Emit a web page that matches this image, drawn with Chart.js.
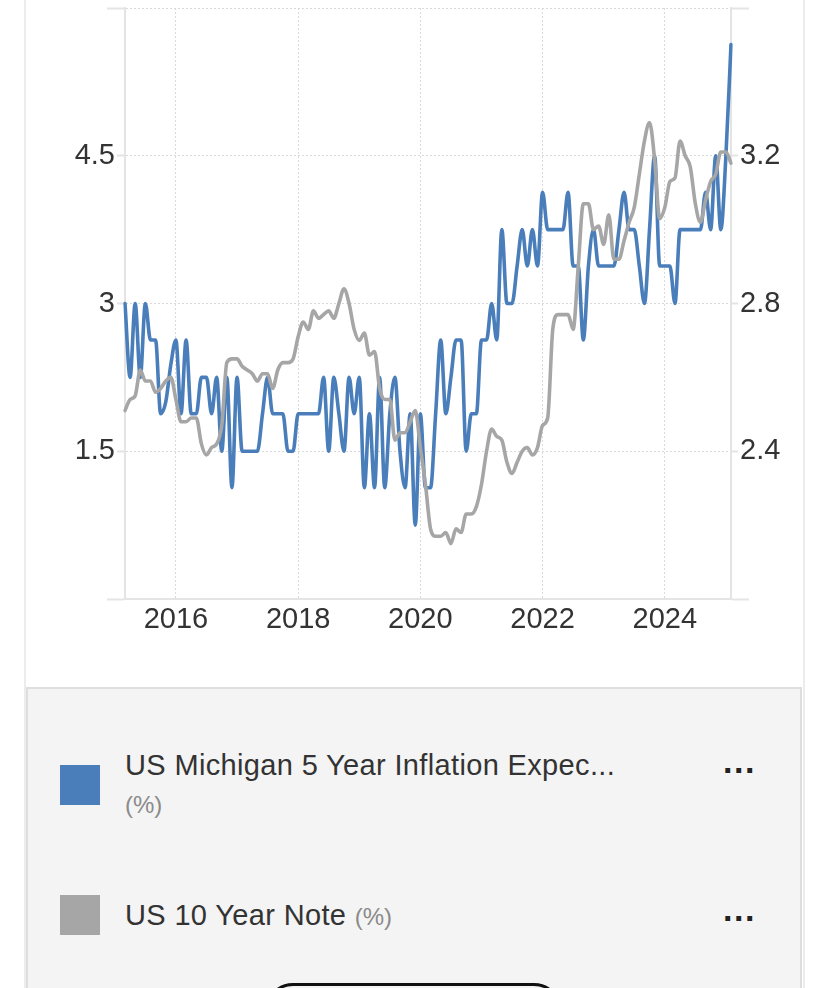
<!DOCTYPE html>
<html lang="en">
<head>
    <meta charset="UTF-8">
    <title>US Michigan 5 Year Inflation Expectations vs US 10 Year Note</title>
    <script src="https://cdn.jsdelivr.net/npm/chart.js"></script>
    <style>
        body { margin: 0; background: #fff; font-family: "Liberation Sans", Arial, Helvetica, sans-serif; }
        .page { position: relative; width: 828px; height: 988px; overflow: hidden; }
        .card { position: absolute; left: 24px; top: 0; width: 777px; height: 988px; border-left: 2px solid #ececec; border-right: 2px solid #ececec; }
        .chart-box { position: absolute; left: 0; top: 0; width: 828px; height: 660px; }
        .legend { position: absolute; left: 26px; top: 687px; width: 772px; height: 330px; background: #f4f4f4; border: 2px solid #dedede; }
        .swatch { position: absolute; left: 60px; width: 40px; height: 40px; }
        .name { position: absolute; left: 125px; font-size: 29px; line-height: 29px; letter-spacing: 0.35px; color: #333; white-space: nowrap; }
        .unit { font-size: 24px; line-height: 24px; letter-spacing: 0; color: #8a8a8a; }
        .unit.below { position: absolute; left: 125px; }
        .more { position: absolute; left: 723px; font-size: 34px; line-height: 34px; font-weight: bold; letter-spacing: 1.5px; color: #222; }
        .button { position: absolute; left: 265px; top: 983px; width: 297px; height: 60px; box-sizing: border-box; border: 3px solid #111; border-radius: 28px; }
    </style>
</head>
<body>
<div class="page">
    <div class="card"></div>
    <div class="chart-box"><canvas id="compareChart"></canvas></div>
    <div class="legend"></div>

    <div class="swatch" style="top:765px; background:#4a7ebb;"></div>
    <div class="name" style="top:751px;">US Michigan 5 Year Inflation Expec...</div>
    <div class="unit below" style="top:793px;">(%)</div>
    <div class="more" style="top:744px;">...</div>

    <div class="swatch" style="top:895px; background:#a6a6a6;"></div>
    <div class="name" style="top:901px;">US 10 Year Note <span class="unit">(%)</span></div>
    <div class="more" style="top:892px;">...</div>

    <div class="button"></div>
</div>

<script>
    // monthly, March 2015 .. February 2025
    const startYear = 2015;
    const startMonth = 3;
    const monthCount = 120;
    const months = [];
    for (let k = 0; k < monthCount; k++) {
        const m = startMonth - 1 + k;
        months.push((startYear + Math.floor(m / 12)) + '-' + String(m % 12 + 1).padStart(2, '0'));
    }

    // x axis labels shown
    const yearTicks = ['2016', '2018', '2020', '2022', '2024'];

    // US Michigan 5 Year Inflation Expectations (left axis)
    const michiganData = [
        3.0, 2.25, 3.0, 2.25, 3.0, 2.63, 2.63, 1.88, 2.0, 2.38,
        2.63, 1.88, 2.63, 1.88, 1.88, 2.25, 2.25, 1.88, 2.25, 1.5,
        2.25, 1.13, 2.25, 1.5, 1.5, 1.5, 1.5, 1.88, 2.25, 1.88,
        1.88, 1.88, 1.5, 1.5, 1.88, 1.88, 1.88, 1.88, 1.88, 2.25,
        1.5, 2.25, 1.88, 1.5, 2.25, 1.88, 2.25, 1.13, 1.88, 1.13,
        2.25, 1.13, 1.88, 2.25, 1.5, 1.13, 1.88, 0.75, 1.88, 1.13,
        1.13, 1.88, 2.63, 1.88, 2.25, 2.63, 2.63, 1.5, 1.88, 1.88,
        2.63, 2.63, 3.0, 2.63, 3.75, 3.0, 3.0, 3.38, 3.75, 3.38,
        3.75, 3.38, 4.13, 3.75, 3.75, 3.75, 3.75, 4.13, 3.38, 3.38,
        2.63, 3.38, 3.75, 3.38, 3.38, 3.38, 3.38, 3.75, 4.13, 3.75,
        3.75, 3.38, 3.0, 3.75, 4.5, 3.38, 3.38, 3.38, 3.0, 3.75,
        3.75, 3.75, 3.75, 3.75, 4.13, 3.75, 4.5, 3.75, 4.5, 5.63
    ];

    // US 10 Year Note (right axis)
    const noteData = [
        2.51, 2.54, 2.55, 2.62, 2.59, 2.59, 2.56, 2.57, 2.59, 2.60,
        2.54, 2.48, 2.48, 2.49, 2.49, 2.42, 2.39, 2.41, 2.42, 2.47,
        2.64, 2.65, 2.65, 2.63, 2.62, 2.61, 2.59, 2.61, 2.61, 2.57,
        2.62, 2.64, 2.64, 2.65, 2.71, 2.75, 2.73, 2.78, 2.76, 2.77,
        2.78, 2.76, 2.80, 2.84, 2.80, 2.73, 2.70, 2.72, 2.66, 2.67,
        2.57, 2.54, 2.54, 2.43, 2.45, 2.45, 2.48, 2.51, 2.41, 2.31,
        2.19, 2.17, 2.17, 2.18, 2.15, 2.19, 2.18, 2.23, 2.23, 2.25,
        2.31, 2.40, 2.46, 2.44, 2.43, 2.37, 2.34, 2.37, 2.40, 2.41,
        2.39, 2.41, 2.47, 2.49, 2.73, 2.77, 2.77, 2.77, 2.73, 2.90,
        3.07, 3.07, 3.00, 3.01, 2.96, 3.04, 2.92, 2.92, 2.97, 3.02,
        3.06, 3.15, 3.24, 3.29, 3.19, 3.03, 3.06, 3.13, 3.14, 3.24,
        3.20, 3.17, 3.07, 3.02, 3.08, 3.13, 3.15, 3.21, 3.21, 3.18
    ];

    // y axis ranges
    const leftTicks = { min: 0, max: 6, step: 1.5 };
    const rightTicks = { min: 2.0, max: 3.6, step: 0.4 };

    Chart.defaults.font.family = '"Liberation Sans", Arial, Helvetica, sans-serif';
    Chart.defaults.font.size = 29;
    Chart.defaults.color = '#333';

    const hasLabel = c => c.tick && c.tick.label !== '';

    const config = {
        type: 'line',
        data: {
            labels: months,
            datasets: [
                {
                    label: 'US Michigan 5 Year Inflation Expectations',
                    data: michiganData,
                    yAxisID: 'y',
                    borderColor: '#4a7ebb',
                    borderWidth: 3.6,
                    pointRadius: 0,
                    cubicInterpolationMode: 'monotone',
                    borderJoinStyle: 'round',
                    borderCapStyle: 'round',
                    order: 2
                },
                {
                    label: 'US 10 Year Note',
                    data: noteData,
                    yAxisID: 'y1',
                    borderColor: '#a6a6a6',
                    borderWidth: 3.6,
                    pointRadius: 0,
                    cubicInterpolationMode: 'monotone',
                    borderJoinStyle: 'round',
                    borderCapStyle: 'round',
                    order: 1
                }
            ]
        },
        options: {
            responsive: true,
            maintainAspectRatio: false,
            animation: false,
            layout: { padding: { top: 8, left: 0, right: 0, bottom: 0 } },
            plugins: {
                legend: { display: false },
                tooltip: { enabled: false }
            },
            scales: {
                x: {
                    type: 'category',
                    afterBuildTicks: scale => {
                        scale.ticks = scale.ticks.filter(t => months[t.value].endsWith('-01') && yearTicks.includes(months[t.value].slice(0, 4)));
                    },
                    ticks: {
                        autoSkip: false,
                        maxRotation: 0,
                        padding: 4,
                        callback: v => months[v].slice(0, 4)
                    },
                    grid: { color: '#d9d9d9', lineWidth: 1, drawTicks: false },
                    border: { color: '#e4e4e4', width: 2, dash: [2, 2] },
                    afterFit: s => { s.height = 61; s.paddingLeft = 0; s.paddingRight = 0; }
                },
                y: {
                    position: 'left',
                    min: leftTicks.min,
                    max: leftTicks.max,
                    ticks: {
                        stepSize: leftTicks.step,
                        padding: -8,
                        callback: v => (v === leftTicks.min || v === leftTicks.max) ? '' : String(v),
                        showLabelBackdrop: hasLabel,
                        backdropColor: '#fff',
                        backdropPadding: 2
                    },
                    grid: { color: '#d9d9d9', lineWidth: 1, tickColor: '#e4e4e4', tickWidth: 2, tickLength: 18 },
                    border: { color: '#e4e4e4', width: 2, dash: [2, 2] },
                    afterFit: s => { s.width = 125; s.paddingTop = 0; s.paddingBottom = 0; }
                },
                y1: {
                    position: 'right',
                    min: rightTicks.min,
                    max: rightTicks.max,
                    ticks: {
                        stepSize: rightTicks.step,
                        padding: -9,
                        callback: v => (v === rightTicks.min || v === rightTicks.max) ? '' : v.toFixed(1),
                        showLabelBackdrop: hasLabel,
                        backdropColor: '#fff',
                        backdropPadding: 2
                    },
                    grid: { drawOnChartArea: false, tickColor: '#e4e4e4', tickWidth: 2, tickLength: 18 },
                    border: { color: '#e4e4e4', width: 2 },
                    afterFit: s => { s.width = 97; s.paddingTop = 0; s.paddingBottom = 0; }
                }
            }
        }
    };

    const compareChart = new Chart(document.getElementById('compareChart'), config);
</script>
</body>
</html>
